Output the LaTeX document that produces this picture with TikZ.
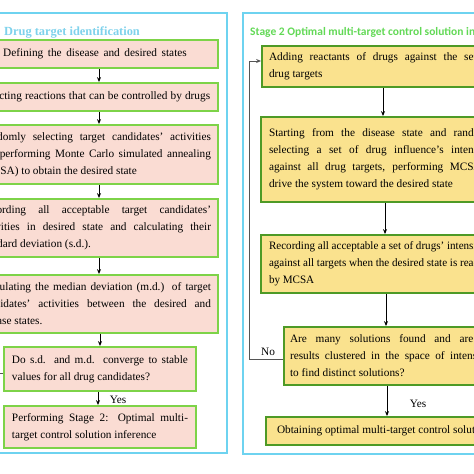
\documentclass[tikz,border=0pt]{standalone}
\usepackage{fontspec}
\setmainfont{Liberation Serif}
\newfontfamily\carlito{Carlito}
\usepackage{graphicx}
\usetikzlibrary{arrows.meta}
\definecolor{panelc}{HTML}{6ED3F0}
\definecolor{pinkf}{HTML}{FADCD3}
\definecolor{lgreen}{HTML}{7DD348}
\definecolor{yellf}{HTML}{FAE28E}
\definecolor{dgreen}{HTML}{4E9A26}
\definecolor{titlecyan}{HTML}{7ED2EC}
\definecolor{titlegreen}{HTML}{62D956}
\definecolor{loopc}{HTML}{555555}
\newcommand\jl[1]{{\spaceskip=0pt\xspaceskip=0pt\makebox[\hsize][s]{#1}}}
\begin{document}
\begin{tikzpicture}[x=1pt,y=-1pt,
  box/.style={rectangle, draw, line width=1.8pt, inner sep=0pt, align=left,
    font=\fontsize{11.3}{17}\selectfont,
    execute at begin node={\spaceskip=0pt\xspaceskip=0pt}},
  lbox/.style={box, draw=lgreen, fill=pinkf},
  rbox/.style={box, draw=dgreen, fill=yellf},
  arr/.style={line width=0.9pt, -{Stealth[length=5pt,width=4pt]}},
  loopln/.style={line width=0.8pt, draw=loopc},
  panel/.style={rectangle, draw=panelc, line width=1.6pt, inner sep=0pt},
  lbl/.style={inner sep=0pt, font=\fontsize{11.3}{13}\selectfont},
]
\useasboundingbox (0,0) rectangle (474,474);
\clip (0,0) rectangle (474,474);
\fill[white] (0,0) rectangle (474,474);

% panels
\node[panel, minimum width=287pt, minimum height=440pt] (P1) at (83.5,233) {};
\node[panel, minimum width=317pt, minimum height=441pt] (P2) at (401.5,233.5) {};

% titles
\node[anchor=base west, inner sep=0pt, text=titlecyan,
  font=\fontsize{12.4}{14}\selectfont\bfseries] (T1) at (4,35) {Drug target identification};
\node[anchor=base west, inner sep=0pt, text=titlegreen,
  font=\carlito\fontsize{11.5}{13}\selectfont\bfseries] (T2) at (250,35)
  {Stage 2 Optimal multi-target control solution inference};

% left boxes
\node[lbox, minimum width=246pt, minimum height=28pt, text width=240pt, align=center] (L1) at (95,54)
  {Defining the disease and desired states};
\node[lbox, minimum width=246pt, minimum height=28pt, text width=240pt, align=center] (L2) at (95,97)
  {Selecting reactions that can be controlled by drugs};
\node[lbox, minimum width=246pt, minimum height=59pt, text width=232pt] (L3) at (95,154.5)
  {\jl{Randomly selecting target candidates' activities}\\
   \jl{and performing Monte Carlo simulated annealing}\\
   (MCSA) to obtain the desired state};
\node[lbox, minimum width=246pt, minimum height=58pt, text width=232pt] (L4) at (95,228)
  {\jl{Recording all acceptable target candidates'}\\
   \jl{activities in desired state and calculating their}\\
   standard deviation (s.d.).};
\node[lbox, minimum width=246pt, minimum height=58pt, text width=232pt] (L5) at (95,304)
  {\jl{Calculating the median deviation (m.d.) of target}\\
   \jl{candidates' activities between the desired and}\\
   disease states.};
\node[lbox, minimum width=192pt, minimum height=44pt, text width=176pt] (L6) at (100,369)
  {\jl{Do s.d. and m.d. converge to stable}\\
   values for all drug candidates?};
\node[lbox, minimum width=192pt, minimum height=42pt, text width=176pt] (L7) at (100,427)
  {\jl{Performing Stage 2: Optimal multi-}\\
   target control solution inference};

% left arrows
\coordinate (ax1) at (99,0);
\coordinate (ax2) at (100,0);
\coordinate (ax3) at (98,0);
\draw[arr] (L1.south -| ax1) -- (L2.north -| ax1);
\draw[arr] (L2.south -| ax1) -- (L3.north -| ax1);
\draw[arr] (L3.south -| ax1) -- (L4.north -| ax1);
\draw[arr] (L4.south -| ax1) -- (L5.north -| ax1);
\draw[arr] (L5.south -| ax2) -- (L6.north -| ax2);
\draw[arr] (L6.south -| ax3) -- (L7.north -| ax3);
\node[lbl] (Y1) at (118,400) {Yes};
\coordinate (lo1) at (-40,373);
\draw[loopln] ([yshift=-4pt]L6.west) -- (lo1);

% right boxes
\node[rbox, minimum width=238pt, minimum height=41pt, text width=224pt] (R1) at (381,66.5)
  {\jl{Adding reactants of drugs against the set of}\\
   drug targets};
\node[rbox, minimum width=244pt, minimum height=85pt, text width=228pt] (R2) at (383,159.5)
  {\jl{Starting from the disease state and randomly}\\
   \jl{selecting a set of drug influence's intensities}\\
   \jl{against all drug targets, performing MCSA to}\\
   drive the system toward the desired state};
\node[rbox, minimum width=244pt, minimum height=58pt, text width=228pt] (R3) at (383,264)
  {\scalebox{0.98}[1]{Recording all acceptable a set of drugs' intensities}\\
   \scalebox{0.98}[1]{against all targets when the desired state is reached}\\
   \scalebox{0.98}[1]{by MCSA}};
\node[rbox, minimum width=218pt, minimum height=58pt, text width=206pt] (R4) at (393,356)
  {\jl{Are many solutions found and are the}\\
   \jl{results clustered in the space of intensities}\\
   to find distinct solutions?};
\node[rbox, minimum width=254pt, minimum height=28pt, text width=232pt] (R5) at (393,431)
  {Obtaining optimal multi-target control solution};

% right arrows
\coordinate (bx1) at (383,0);
\coordinate (bx2) at (385,0);
\coordinate (bx3) at (386,0);
\coordinate (bx4) at (387,0);
\draw[arr] (R1.south -| bx1) -- (R2.north -| bx1);
\draw[arr] (R2.south -| bx2) -- (R3.north -| bx2);
\draw[arr] (R3.south -| bx3) -- (R4.north -| bx3);
\draw[arr] (R4.south -| bx4) -- (R5.north -| bx4);
\node[lbl] (Y2) at (418,404) {Yes};

% loop back
\coordinate (c1) at (249,359);
\coordinate (c2) at (249,61);
\draw[loopln, -{Stealth[length=5pt,width=4pt]}] ([yshift=-3pt]R4.west) -- (c1) -- (c2) -- ([yshift=5.5pt]R1.west);
\node[lbl] (N1) at (268,352) {No};
\end{tikzpicture}
\end{document}
